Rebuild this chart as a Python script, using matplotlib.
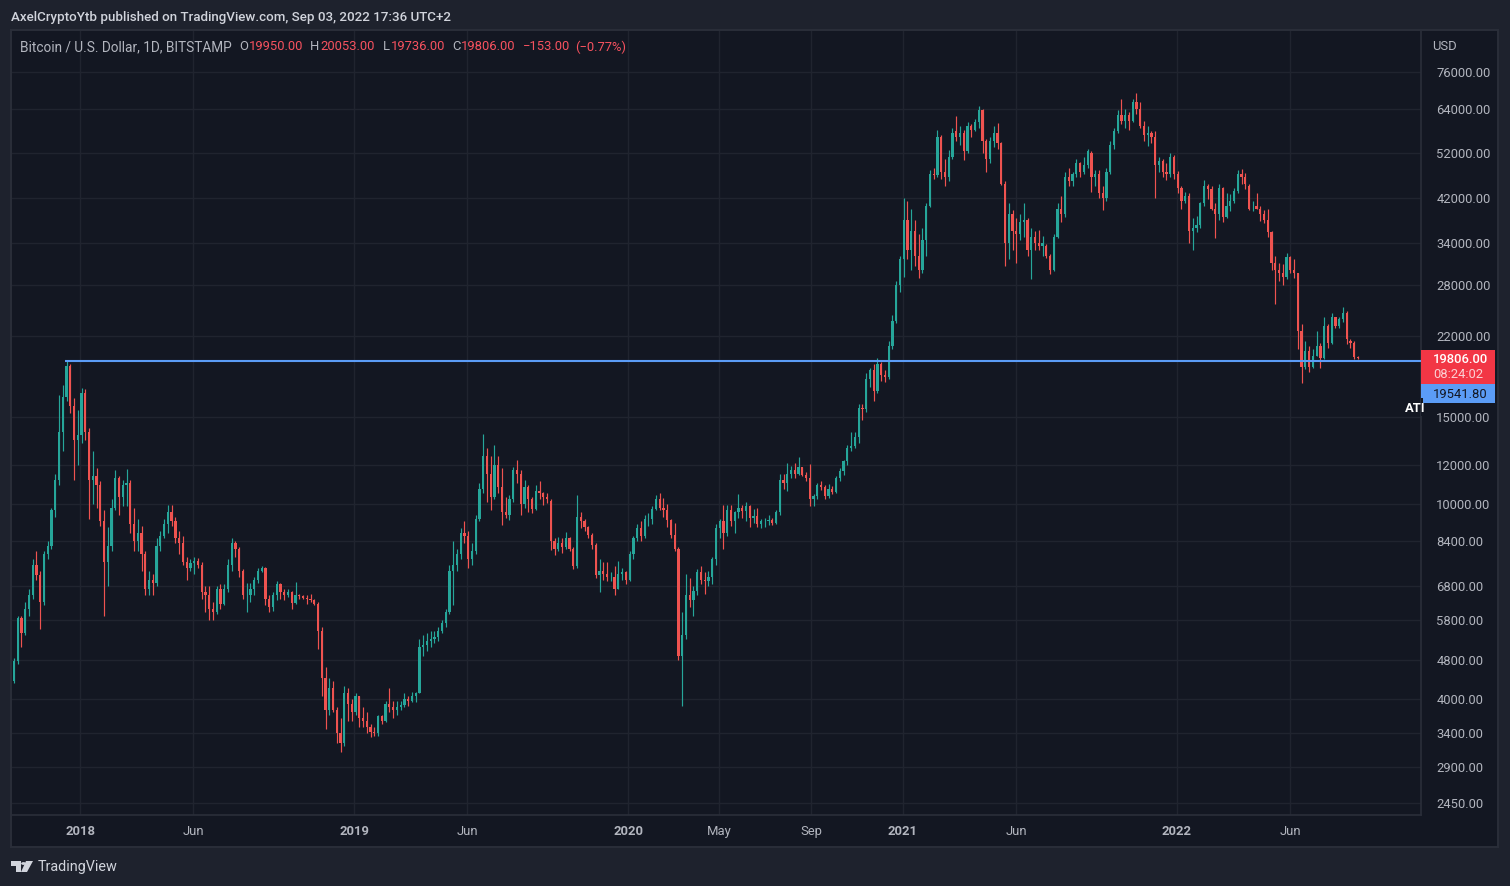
import pandas as pd
import matplotlib
matplotlib.use("Agg")
import matplotlib.pyplot as plt
from matplotlib.patches import Rectangle, Polygon

W, H = 1510, 886

opens = [
    4250,4350,4780,5850,5450,6100,6500,7500,7150,6300,
    7900,8200,9700,11200,14000,16500,19100,15800,13500,13800,
    16800,14000,11200,11400,10900,9200,7600,8200,9800,11300,
    10300,10900,11000,9100,8400,8700,7900,6700,7000,6900,
    8200,8600,9100,9600,9200,8500,8300,7600,7400,7550,
    7650,7500,6600,6500,6100,6000,6700,6250,6700,7500,
    8300,8100,7300,6500,6500,6700,7000,7300,7400,6400,
    6150,6500,6850,6600,6500,6600,6280,6500,6470,6430,
    6400,6350,6250,5500,4400,3800,4200,3800,3400,3250,
    4100,3900,3750,4050,3650,3600,3500,3420,3400,3680,
    3600,3900,3850,3800,3850,3880,4000,3950,4050,4100,
    5100,5150,5250,5300,5350,5500,5700,6000,7300,7500,
    7900,8700,8600,7700,8000,9300,10700,12500,11500,10300,
    12000,10800,9600,9500,10200,11700,11500,10000,10800,10200,
    9750,10600,10500,10300,10150,8400,8100,8300,8150,8500,
    8100,7450,9400,9200,8950,8650,8250,7150,7300,7200,
    7100,7100,6700,7200,7250,7000,7900,8500,8900,8600,
    9300,9300,9750,10200,9800,9700,9250,8650,8100,4900,
    5400,6500,6350,6650,7250,7000,6950,7100,7700,8900,
    9200,8700,9700,9200,9600,9800,9650,9900,9350,9450,
    9100,9200,9200,9250,9150,9600,11200,11000,11500,11700,
    11500,11900,11450,11300,10200,10350,10900,10800,10350,10700,
    10550,11300,11650,12200,13000,13100,13700,15700,15600,18000,
    18700,17000,19300,18300,18100,21000,23600,28000,31500,38000,
    33000,36000,32000,30000,34500,40500,47000,46800,56000,47500,
    46500,51000,57500,56000,57000,52500,59000,58000,60000,63500,
    55000,50500,55000,57000,54500,45000,34000,39000,36000,35500,
    37500,38000,33000,35000,34000,33600,33500,32000,30000,35000,
    40000,39000,46500,45500,47000,49500,47500,49000,52000,46500,
    47000,43000,42000,47500,54000,57500,62000,60500,62000,60500,
    66000,64000,59000,56500,57000,56000,49000,50000,47500,47000,
    51000,47000,44000,41500,42500,36000,36500,37000,41000,44500,
    43800,40000,39000,44000,38500,40500,41500,43500,47000,46500,
    44500,40000,40500,40000,39000,38000,35800,31000,30000,29500,
    29000,31800,30000,29500,22500,19000,20500,19000,20000,21000,
    19800,23000,21300,24000,23000,23800,24500,21500,21300,19950,
]
highs = [
    4450,4850,5900,5900,6300,6700,7700,8000,7300,8000,
    8400,9800,11500,16700,17500,19666,19300,16400,15500,17200,
    17100,14300,12800,11800,11100,9700,8950,10200,11700,11400,
    11200,11750,11200,9800,9300,9000,8000,7300,7200,8500,
    8800,9300,9950,9950,9400,8800,8600,7800,7700,7800,
    7750,7600,6800,6800,6300,6800,6850,6850,7700,8500,
    8400,8150,7350,6900,6900,7100,7400,7450,7420,6500,
    6600,6950,6900,6700,6700,6650,6920,6550,6520,6500,
    6530,6380,6300,5600,4650,4400,4350,3850,3650,4250,
    4200,4000,4100,4050,3850,3750,3550,3500,3700,3700,
    3950,4200,3950,3950,3950,4100,4050,4130,4130,5300,
    5400,5450,5500,5500,5600,5800,6100,7500,8400,8100,
    8900,9200,8800,8300,9500,11000,13900,13000,12500,13200,
    12500,11800,10300,10400,11900,12300,11700,11200,10900,10300,
    10900,11100,10550,10500,10200,8500,8550,8500,8750,8550,
    8150,10400,9600,9300,9000,8700,8300,7700,7600,7600,
    7250,7450,7650,7400,7300,8000,8600,9100,9200,9500,
    9550,9900,10400,10500,10250,10000,9300,9150,8150,6000,
    7200,7050,6800,7350,7450,7250,7300,7800,9100,9300,
    9950,9950,9950,9650,10450,9950,10100,9950,9750,9800,
    9300,9350,9500,9350,9700,11500,11500,12100,11950,12100,
    12450,11900,11600,12050,10450,11000,11150,10900,10950,10850,
    11400,11800,12300,13200,14000,14000,16000,16000,18500,18900,
    19300,19800,19500,18700,21500,24300,28500,32000,42000,41400,
    40000,38000,35500,36500,41000,48000,48500,58000,56500,50500,
    52800,58300,61700,59000,58000,60000,59500,61000,64900,64000,
    55500,56000,59000,59700,54800,45500,41000,39800,38200,39000,
    41000,38300,36500,36000,36200,35200,33800,32300,35500,41000,
    42500,47500,48500,47500,50400,49800,51000,53000,52500,48000,
    48000,44500,48500,55000,58500,63500,67000,64000,63000,67000,
    69000,66000,60500,59000,57500,57500,51000,50400,49500,52000,
    51500,47800,44500,43300,43000,38200,38700,41200,45800,44800,
    44400,41000,45000,44200,43000,42800,44000,48000,48200,47200,
    44800,41400,43000,40500,39700,40000,36000,32000,31000,30800,
    32400,32000,31500,29600,23300,21500,21000,20700,22500,21300,
    24000,23300,24500,24000,24000,25200,24700,21700,21500,20053,
]
lows = [
    4100,4300,4700,5100,5400,5900,6400,7000,5550,6200,
    7700,8100,9400,10900,12800,16200,15300,11200,12000,13300,
    13500,9300,10000,9800,9000,5900,6800,8000,9700,9500,
    9900,9900,8700,8000,8000,7300,6500,6500,6500,6800,
    8000,8500,8700,9000,8300,7900,7500,7000,7300,7200,
    7400,6400,6000,5800,5800,5950,6100,6200,6600,7300,
    7800,7100,6400,6000,6300,6500,6900,7250,6200,6000,
    6050,6350,6400,6350,6450,6100,6250,6400,6380,6250,
    6300,6200,5050,4050,3470,3700,3750,3250,3110,3200,
    3600,3600,3700,3500,3500,3400,3340,3350,3350,3550,
    3580,3750,3650,3700,3800,3850,3870,3930,3930,4100,
    4900,5000,5100,5200,5250,5450,5600,5950,6200,7300,
    7700,8300,7400,7500,7900,9200,10500,10100,9700,10200,
    10500,9050,9350,9250,10100,11000,9500,9800,9600,9550,
    9700,10200,9950,10050,8050,7850,8000,7950,8100,8000,
    7350,7400,8900,8800,8500,8100,7050,6600,7000,6950,
    6950,6500,6700,7000,6850,6950,7700,8400,8400,8500,
    9000,9100,9700,9700,9400,8950,8520,8000,4800,3860,
    5300,6150,5900,6500,6850,6550,6800,6850,7500,8500,
    8100,8600,9000,8700,9350,9350,9200,8950,9150,8950,
    8900,8950,9050,9050,9100,9500,10700,10600,11300,11300,
    11450,11400,11150,9900,9900,10200,10650,10200,10250,10450,
    10500,11100,11450,12000,12800,13000,13300,14800,15400,17300,
    16200,16800,17800,17700,18000,20700,23400,27000,29000,31500,
    30000,30500,28900,29500,32000,40300,46000,46500,46000,44500,
    45500,50500,55000,54000,50300,52000,56000,57500,58500,52000,
    47500,49500,53500,53000,44700,30500,31500,33000,31000,34500,
    35000,32000,28800,33000,33000,32000,31700,29400,29800,34800,
    37500,38500,44500,44500,46500,46500,47000,48500,43300,44500,
    42000,39700,41500,47000,53000,57000,59500,58500,58000,60000,
    62500,58500,55000,53600,54500,42000,47500,46500,45800,46500,
    46000,43000,39900,41000,34000,32900,35800,36500,40500,41800,
    39800,34800,38000,37500,38300,39500,41000,43000,45000,43800,
    39800,39500,39900,37800,37300,35000,30000,25600,28500,28000,
    28800,29500,28900,20700,17600,18800,18600,18900,20000,18900,
    19700,20800,21200,22800,22800,23500,21200,20800,19700,19736,
]
closes = [
    4350,4780,5850,5450,6100,6500,7500,7150,6300,7900,
    8200,9700,11200,14000,16500,19100,15800,13500,13800,16800,
    14000,11200,11400,10900,9200,7600,8200,9800,11300,10300,
    10900,11000,9100,8400,8700,7900,6700,7000,6900,8200,
    8600,9100,9600,9200,8500,8300,7600,7400,7550,7650,
    7500,6600,6500,6100,6000,6700,6250,6700,7500,8300,
    8100,7300,6500,6500,6700,7000,7300,7400,6400,6150,
    6500,6850,6600,6500,6600,6280,6500,6470,6430,6400,
    6350,6250,5500,4400,3800,4200,3800,3400,3250,4100,
    3900,3750,4050,3650,3600,3500,3420,3400,3680,3600,
    3900,3850,3800,3850,3880,4000,3950,4050,4100,5100,
    5150,5250,5300,5350,5500,5700,6000,7300,7500,7900,
    8700,8600,7700,8000,9300,10700,12500,11500,10300,12000,
    10800,9600,9500,10200,11700,11500,10000,10800,10200,9750,
    10600,10500,10300,10200,8400,8100,8300,8150,8500,8100,
    7450,9400,9200,8950,8650,8250,7150,7300,7200,7100,
    7100,6700,7200,7250,7000,7900,8500,8900,8600,9300,
    9300,9750,10200,9800,9700,9250,8650,8100,4900,5400,
    6500,6350,6650,7250,7000,6950,7100,7700,8900,9200,
    8700,9700,9200,9600,9800,9650,9900,9350,9450,9100,
    9200,9200,9250,9150,9600,11200,11000,11500,11700,11500,
    11900,11450,11300,10200,10350,10900,10800,10350,10700,10550,
    11300,11650,12200,13000,13100,13700,15700,15600,18000,18700,
    17000,19300,18300,18100,21000,23600,28000,31500,38000,33000,
    36000,32000,30000,34500,40500,47000,46800,56000,47500,46500,
    51000,57000,56000,57000,52500,59000,58000,60000,63500,55000,
    50500,55000,57000,54500,45000,34000,39000,36000,35500,37500,
    38000,33000,35000,34000,33600,34000,32000,30000,35000,40000,
    39000,46500,45500,47000,49500,47500,49000,52500,46500,47000,
    43000,42000,47500,54000,57500,62000,60500,62000,60500,66000,
    64000,59000,56500,57000,56000,49000,50000,47500,47000,51000,
    47000,44000,41500,42500,36000,36500,37000,41000,44500,43800,
    40000,39000,44000,38500,40500,41500,43500,47000,46500,45000,
    40000,40000,40000,39000,38000,35800,31000,30000,29500,29000,
    31800,30000,29500,22500,19000,20500,19000,20000,21000,19800,
    23000,21300,24000,23000,23800,24500,21700,21300,19900,19806,
]

price_ticks = [76000, 64000, 52000, 42000, 34000, 28000, 22000, 15000, 12000,
               10000, 8400, 6800, 5800, 4800, 4000, 3400, 2900, 2450]
date_ticks = ["2018-01-01", "2018-06-01", "2019-01-01", "2019-06-01", "2020-01-01",
              "2020-05-01", "2020-09-01", "2021-01-01", "2021-06-01", "2022-01-01", "2022-06-01"]
date_labels = ["2018", "Jun", "2019", "Jun", "2020", "May", "Sep", "2021", "Jun", "2022", "Jun"]

ath_price = 19541.80
ath_start = "2017-12-12"

BG = "#131722"
OUTER = "#1e222d"
BORDER = "#2a2e39"
GRID = "#20242f"
UP = "#26a69a"
DOWN = "#ef5350"
AXIS_TEXT = "#b2b5be"
LEGEND_RED = "#f7525f"
RED_TAG = "#f23645"
BLUE = "#5b9cf6"
FONT = "Roboto"


def ftext(x, y, s, **kw):
    # 按像素位置写文字
    kw.setdefault("va", "center")
    kw.setdefault("family", FONT)
    return fig.text(x / W, 1 - y / H, s, **kw)


def frect(x0, y0, x1, y1, **kw):
    fig.add_artist(Rectangle((x0 / W, 1 - y1 / H), (x1 - x0) / W, (y1 - y0) / H,
                             transform=fig.transFigure, **kw))


fig = plt.figure(figsize=(W / 100, H / 100), dpi=100, facecolor=OUTER)
frect(11, 30, 1498, 847, facecolor=BG, edgecolor=BORDER, linewidth=1.4, zorder=-5)

ax = fig.add_axes([12 / W, 1 - 815 / H, (1421 - 12) / W, (815 - 31) / H])
ax.set_facecolor(BG)
ax.set_yscale("log")
ax.set_ylim(2316, 92150)

day0 = pd.Timestamp("2018-01-01")
xlim_left = day0 - pd.Timedelta(days=90.6)
xlim_right = day0 + pd.Timedelta(days=1786)
ax.set_xlim(xlim_left, xlim_right)

# 五天一根K线，日期取每段的第一天
dates = pd.date_range(end="2022-08-30", periods=len(closes), freq="5D")
up = [c >= o for o, c in zip(opens, closes)]
colors = [UP if u else DOWN for u in up]

ax.vlines(dates, lows, highs, colors=colors, linewidth=0.85, zorder=3)
ax.bar(dates, [abs(c - o) for o, c in zip(opens, closes)],
       bottom=[min(o, c) for o, c in zip(opens, closes)],
       width=3.0, color=colors, linewidth=0, zorder=4)

ax.hlines(ath_price, pd.Timestamp(ath_start), xlim_right, colors=BLUE, linewidth=1.5, zorder=5)

ax.yaxis.tick_right()
ax.set_yticks(price_ticks)
ax.set_yticklabels([f"{p:.2f}" for p in price_ticks], family=FONT, fontsize=9.4, color=AXIS_TEXT)
ax.minorticks_off()
ax.tick_params(axis="y", which="both", length=0, pad=11)
ax.set_xticks(pd.to_datetime(date_ticks))
ax.set_xticklabels(date_labels, family=FONT, fontsize=9.4, color=AXIS_TEXT)
ax.tick_params(axis="x", length=0, pad=7)
for lab in ax.get_xticklabels():
    if lab.get_text().isdigit():
        lab.set_fontweight("bold")
ax.grid(True, color=GRID, linewidth=1)
ax.set_axisbelow(True)
for name, sp in ax.spines.items():
    sp.set_color(BORDER)
    sp.set_linewidth(1.2)
    sp.set_visible(name in ("right", "bottom"))

# 顶部文字
ftext(11, 17, "AxelCryptoYtb published on TradingView.com, Sep 03, 2022 17:36 UTC+2",
      fontsize=9.6, color="#d1d4dc", fontweight="medium")
ftext(20, 47, "Bitcoin / U.S. Dollar, 1D, BITSTAMP", fontsize=9.8, color=AXIS_TEXT)
legend_parts = [(239, "O", AXIS_TEXT), (249, "19950.00", LEGEND_RED), (310, "H", AXIS_TEXT),
                (320, "20053.00", LEGEND_RED), (383, "L", AXIS_TEXT), (391, "19736.00", LEGEND_RED),
                (452, "C", AXIS_TEXT), (461, "19806.00", LEGEND_RED), (523, "\u2212153.00", LEGEND_RED),
                (575, "(\u22120.77%)", LEGEND_RED)]
for x, s, c in legend_parts:
    ftext(x, 47, s, fontsize=9.4, color=c)
ftext(1432, 46, "USD", fontsize=9.4, color=AXIS_TEXT)

# 右侧价格标签
frect(1421, 350, 1495, 384, facecolor=RED_TAG, edgecolor="none", zorder=6)
frect(1421, 384, 1495, 403, facecolor=BLUE, edgecolor="none", zorder=6)
ftext(1433, 359, "19806.00", fontsize=9.4, color="white", fontweight="medium", zorder=7)
ftext(1433, 375, "08:24:02", fontsize=9.4, color="#fbd0d4", zorder=7)
ftext(1433, 394, "19541.80", fontsize=9.4, color=BG, zorder=7)
ftext(1405, 408, "ATI", fontsize=9.4, color="white", fontweight="bold", zorder=7)
frect(1421, 398, 1423, 416, facecolor=BG, edgecolor="none", zorder=6.5)

# 左下角标志
logo_parts = [
    [(11, 861), (21, 861), (21, 872), (16, 872), (16, 866), (11, 866)],
    [(26, 861), (33, 861), (27, 872), (21, 872)],
]
for pts in logo_parts:
    fig.add_artist(Polygon([(x / W, 1 - y / H) for x, y in pts], closed=True,
                           transform=fig.transFigure, facecolor="#d1d4dc", edgecolor="none"))
fig.add_artist(plt.Circle((23.5 / W, 1 - 863.5 / H), 2.4 / W, transform=fig.transFigure, facecolor="#d1d4dc"))
ftext(38, 867, "TradingView", fontsize=10.4, color="#d1d4dc")

fig.savefig("out.png", dpi=100, facecolor=OUTER)
